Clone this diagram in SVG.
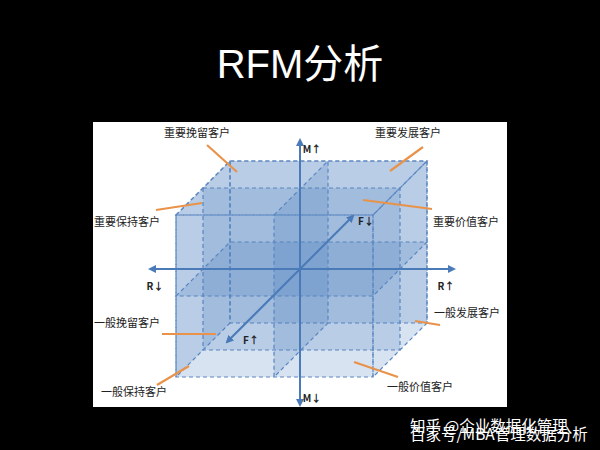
<svg xmlns="http://www.w3.org/2000/svg" width="600" height="450" viewBox="0 0 600 450">
<style>
.pl{fill:#4f81bd;fill-opacity:.22;stroke:#5b86c0;stroke-width:1.2;stroke-dasharray:4 3}
.ax{stroke:#4a7ab8;stroke-width:2;fill:none;marker-end:url(#ah)}
.ld{stroke:#e8924a;stroke-width:2.2}
.lb{font-family:"Noto Sans CJK SC","Liberation Sans",sans-serif;font-size:11px;fill:#222;text-anchor:middle}
.al{font-family:"Noto Sans CJK SC","Liberation Sans",sans-serif;font-size:10px;font-weight:bold;fill:#222;text-anchor:middle}
.wm{font-family:"Noto Sans CJK SC",sans-serif;font-size:15.5px;fill:#fff}
</style>
<defs><marker id="ah" markerWidth="8" markerHeight="8" refX="6" refY="4" orient="auto" markerUnits="userSpaceOnUse"><path d="M0,0 L8,4 L0,8 Z" fill="#4a7ab8"/></marker></defs>
<rect width="600" height="450" fill="#000"/>
<text x="300" y="78" font-family="Liberation Sans,Noto Sans CJK SC,sans-serif" font-size="40" fill="#fff" text-anchor="middle">RFM分析</text>
<rect x="93" y="122" width="414" height="285" fill="#fff"/>
<g id="cube">
<polygon class="pl" points="230,161 427,161 427,323 230,323"/>
<polygon class="pl" points="176,215 230,161 230,323 176,377"/>
<polygon class="pl" points="176,215 230,161 427,161 373,215"/>
<polygon class="pl" points="203,188 400,188 400,350 203,350"/>
<polygon class="pl" points="176,296 230,242 427,242 373,296"/>
<polygon class="pl" points="274,215 328,161 328,323 274,377"/>
<polygon class="pl" points="373,215 427,161 427,323 373,377"/>
<polygon class="pl" points="176,215 373,215 373,377 176,377"/>
</g>
<g id="connectors">
<line class="ax" x1="300" y1="269" x2="300" y2="140"/>
<line class="ax" x1="300" y1="269" x2="300" y2="405"/>
<line class="ax" x1="300" y1="269" x2="150" y2="269"/>
<line class="ax" x1="300" y1="269" x2="454" y2="269"/>
<line class="ax" x1="300" y1="269" x2="353" y2="216"/>
<line class="ax" x1="300" y1="269" x2="227" y2="342"/>
<line class="ld" x1="207" y1="145" x2="237" y2="172"/>
<line class="ld" x1="423" y1="147" x2="390" y2="171"/>
<line class="ld" x1="156" y1="210" x2="202" y2="203"/>
<line class="ld" x1="432" y1="209" x2="363" y2="200"/>
<line class="ld" x1="162" y1="334" x2="216" y2="334"/>
<line class="ld" x1="440" y1="325" x2="415" y2="321"/>
<line class="ld" x1="157" y1="385" x2="189" y2="366"/>
<line class="ld" x1="398" y1="377" x2="354" y2="362"/>
</g>
<g id="axislabels">
<text class="al" x="312" y="153">M↑</text>
<text class="al" x="312" y="402">M↓</text>
<text class="al" x="155" y="290">R↓</text>
<text class="al" x="446" y="290">R↑</text>
<text class="al" x="366" y="225">F↓</text>
<text class="al" x="251" y="344">F↑</text>
</g>
<g id="n1"><text class="lb" x="197" y="137">重要挽留客户</text></g>
<g id="n2"><text class="lb" x="408" y="137">重要发展客户</text></g>
<g id="n3"><text class="lb" x="127" y="226">重要保持客户</text></g>
<g id="n4"><text class="lb" x="466" y="226">重要价值客户</text></g>
<g id="n5"><text class="lb" x="127" y="327">一般挽留客户</text></g>
<g id="n6"><text class="lb" x="467" y="317">一般发展客户</text></g>
<g id="n7"><text class="lb" x="134" y="396">一般保持客户</text></g>
<g id="n8"><text class="lb" x="420" y="391">一般价值客户</text></g>
<text class="wm" x="410" y="432">知乎 @企业数据化管理</text>
<text class="wm" x="410" y="440">百家号/MBA管理数据分析</text>
</svg>
